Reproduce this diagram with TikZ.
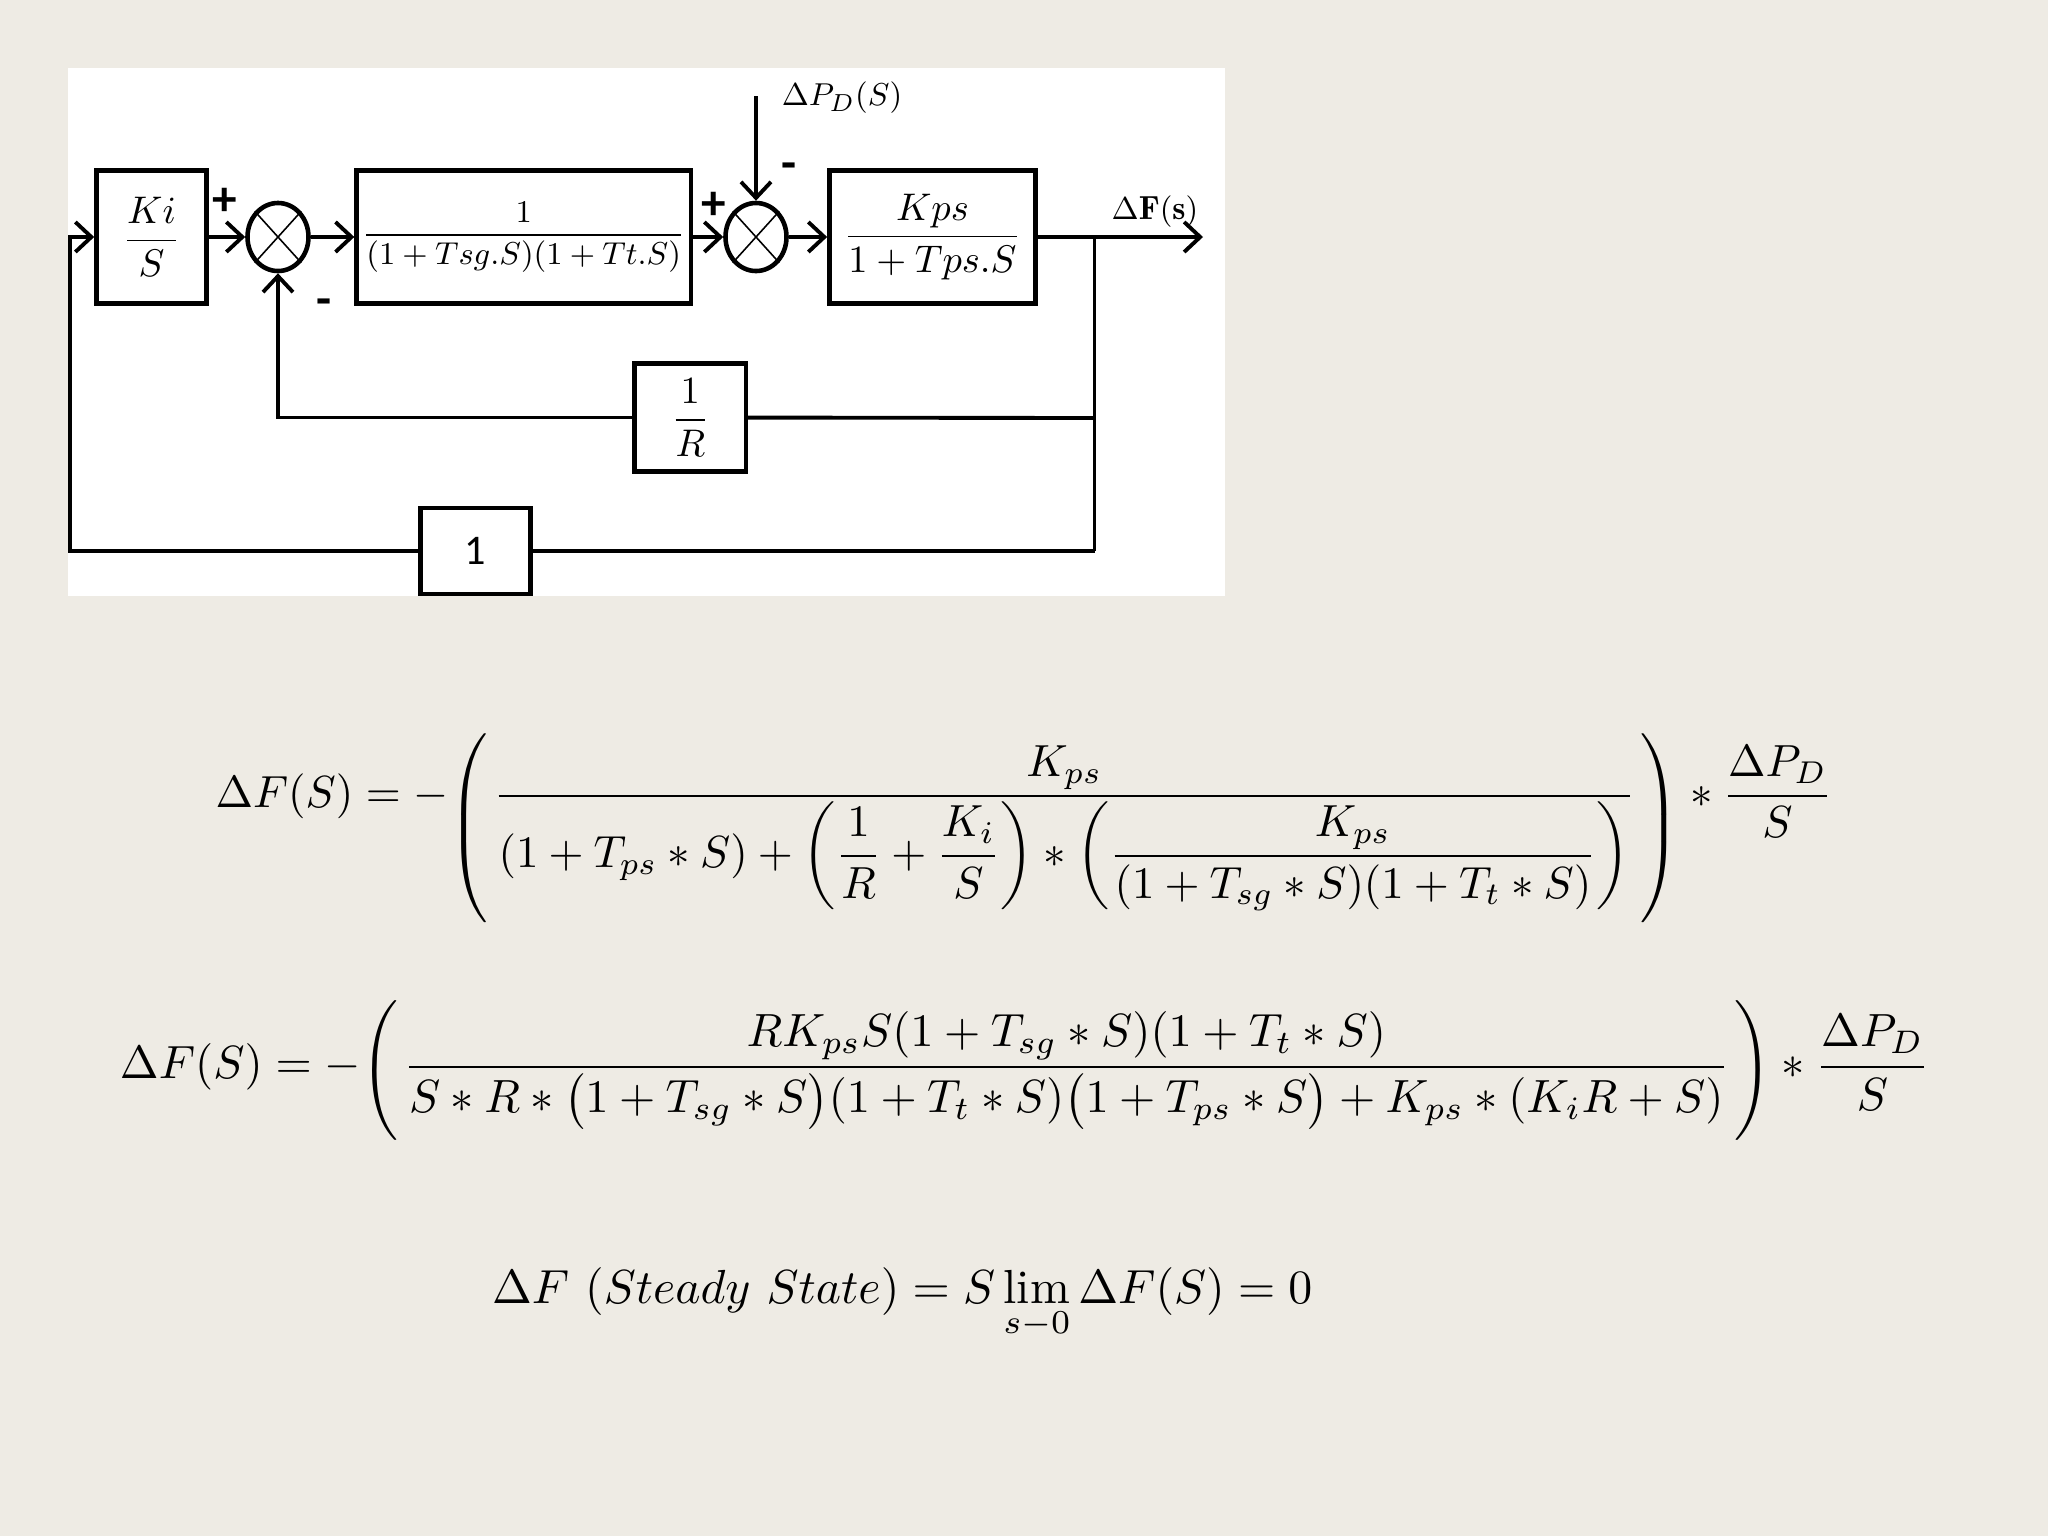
\documentclass[tikz,border=0pt]{standalone}
\usepackage{amsmath}
\usepackage{graphicx}
\usepackage{fontspec}
\newfontfamily\carlito{Carlito}
\usetikzlibrary{arrows.meta,shapes.geometric}
\definecolor{bgc}{RGB}{238,235,228}
\newsavebox\fbx
\newlength\pH \newlength\pA \newlength\pR
\newcommand\setparens{%
  \setlength\pH{\dimexpr(\ht\fbx+\dp\fbx)/2\relax}%
  \setlength\pA{\fontdimen22\textfont2}%
  \setlength\pR{\dimexpr(\ht\fbx-\dp\fbx)/2-\pA\relax}}
\newcommand\myLP{\mathopen{\raisebox{\pR}{$\delimiterfactor=1000 \delimitershortfall=0pt\left(\vrule height\dimexpr\pH+\pA\relax depth\dimexpr\pH-\pA\relax width0pt\right.$}}}
\newcommand\myRP{\mathclose{\raisebox{\pR}{$\delimiterfactor=1000 \delimitershortfall=0pt\left.\vrule height\dimexpr\pH+\pA\relax depth\dimexpr\pH-\pA\relax width0pt\right)$}}}
\begin{document}
\begin{tikzpicture}[x=0.01cm,y=-0.01cm,
 blk/.style={draw, line width=1.3pt, fill=white, inner sep=0pt, font=\fontsize{10.5}{12}\selectfont},
 sumnode/.style={draw, ellipse, line width=1.3pt, fill=white, minimum width=0.61cm, minimum height=0.68cm, inner sep=0pt},
 ln/.style={line width=1.1pt},
 arr/.style={line width=1.1pt, -{Straight Barb[length=1.6mm,width=3mm]}},
 xline/.style={line width=0.45pt},
 sgn/.style={font=\carlito\bfseries\fontsize{14}{15}\selectfont, inner sep=0pt},
 lbl/.style={inner sep=0pt},
 eqn/.style={inner sep=0pt, outer sep=0pt}]
\useasboundingbox (0,0) rectangle (2048,1536);
\fill[bgc] (0,0) rectangle (2048,1536);
\fill[white] (68,68) rectangle (1225,596);

% blocks
\node[blk, minimum width=1.10cm, minimum height=1.33cm] (ki) at (151.5,237) {$\dfrac{Ki}{S}$};
\node[sumnode] (s1) at (278,237) {};
\node[blk, minimum width=3.34cm, minimum height=1.33cm, font=\fontsize{9.5}{11}\selectfont] (g) at (523.7,237) {$\dfrac{1}{(1+Tsg.S)(1+Tt.S)}$};
\node[sumnode] (s2) at (756,237) {};
\node[blk, minimum width=2.06cm, minimum height=1.33cm] (p) at (932.5,237) {$\dfrac{Kps}{1+Tps.S}$};
\node[blk, minimum width=1.11cm, minimum height=1.08cm] (r) at (690.3,417.5) {$\dfrac{1}{R}$};
\node[blk, minimum width=1.10cm, minimum height=0.86cm] (one) at (475.4,551) {\carlito\fontsize{12}{14}\selectfont 1};

\draw[xline] (s1.north east) -- (s1.south west) (s1.north west) -- (s1.south east);
\draw[xline] (s2.north east) -- (s2.south west) (s2.north west) -- (s2.south east);

% coordinates
\coordinate (br) at (1094.5,237);
\coordinate (out) at (1203,237);
\coordinate (brR) at (1094.5,418);
\coordinate (brO) at (1094.5,551);
\coordinate (lft) at (70,551);
\coordinate (dtop) at (756,96);

% connectors
\draw[arr] (ki) -- (s1);
\draw[arr] (s1) -- (g);
\draw[arr] (g) -- (s2);
\draw[arr] (s2) -- (p);
\draw[arr] (p) -- (out);
\draw[ln] (br) -- (brO);
\draw[ln] (brR) -- (r);
\draw[arr] (r.west) -| (s1.south);
\draw[ln] (brO) -- (one);
\draw[arr] (one.west) -- (lft) |- (ki.west);
\draw[arr] (dtop) -- (s2);

% labels
\node[lbl, font=\fontsize{9.5}{11}\selectfont] (dpd) at (842,98) {$\Delta P_D(S)$};
\node[lbl, font=\fontsize{9.5}{11}\selectfont] (dfs) at (1155,212) {$\Delta\mathbf{F}(\mathbf{s})$};
\node[sgn] (p1) at (225,202) {+};
\node[sgn] (m1) at (324,307) {-};
\node[sgn] (p2) at (714,206) {+};
\node[sgn] (m2) at (789,171) {-};

% equations
\node[eqn, anchor=base west] (e1) at (215.5,807) {\sbox\fbx{$\displaystyle\dfrac{K_{ps}}{(1+T_{ps}\ast S)+\left(\dfrac{1}{R}+\dfrac{K_i}{S}\right)\ast\left(\dfrac{K_{ps}}{(1+T_{sg}\ast S)(1+T_t\ast S)}\right)}$}\setparens\resizebox{16.16cm}{!}{$\displaystyle \Delta F(S) = -\myLP\usebox\fbx\myRP\ast\dfrac{\Delta P_D}{S}$}};
\node[eqn, anchor=base west] (e2) at (120,1078.5) {\sbox\fbx{$\displaystyle\dfrac{RK_{ps}S(1+T_{sg}\ast S)(1+T_t\ast S)}{S\ast R\ast\bigl(1+T_{sg}\ast S\bigr)(1+T_t\ast S)\bigl(1+T_{ps}\ast S\bigr)+K_{ps}\ast(K_iR+S)}$}\setparens\resizebox{18.08cm}{!}{$\displaystyle \Delta F(S) = -\myLP\usebox\fbx\myRP\ast\dfrac{\Delta P_D}{S}$}};
\node[eqn, anchor=base west] (e3) at (492,1303.5) {\resizebox{8.2cm}{!}{$\displaystyle \Delta F\ (Steady\ State) = S\lim_{s-0}\Delta F(S) = 0$}};
\end{tikzpicture}
\end{document}
